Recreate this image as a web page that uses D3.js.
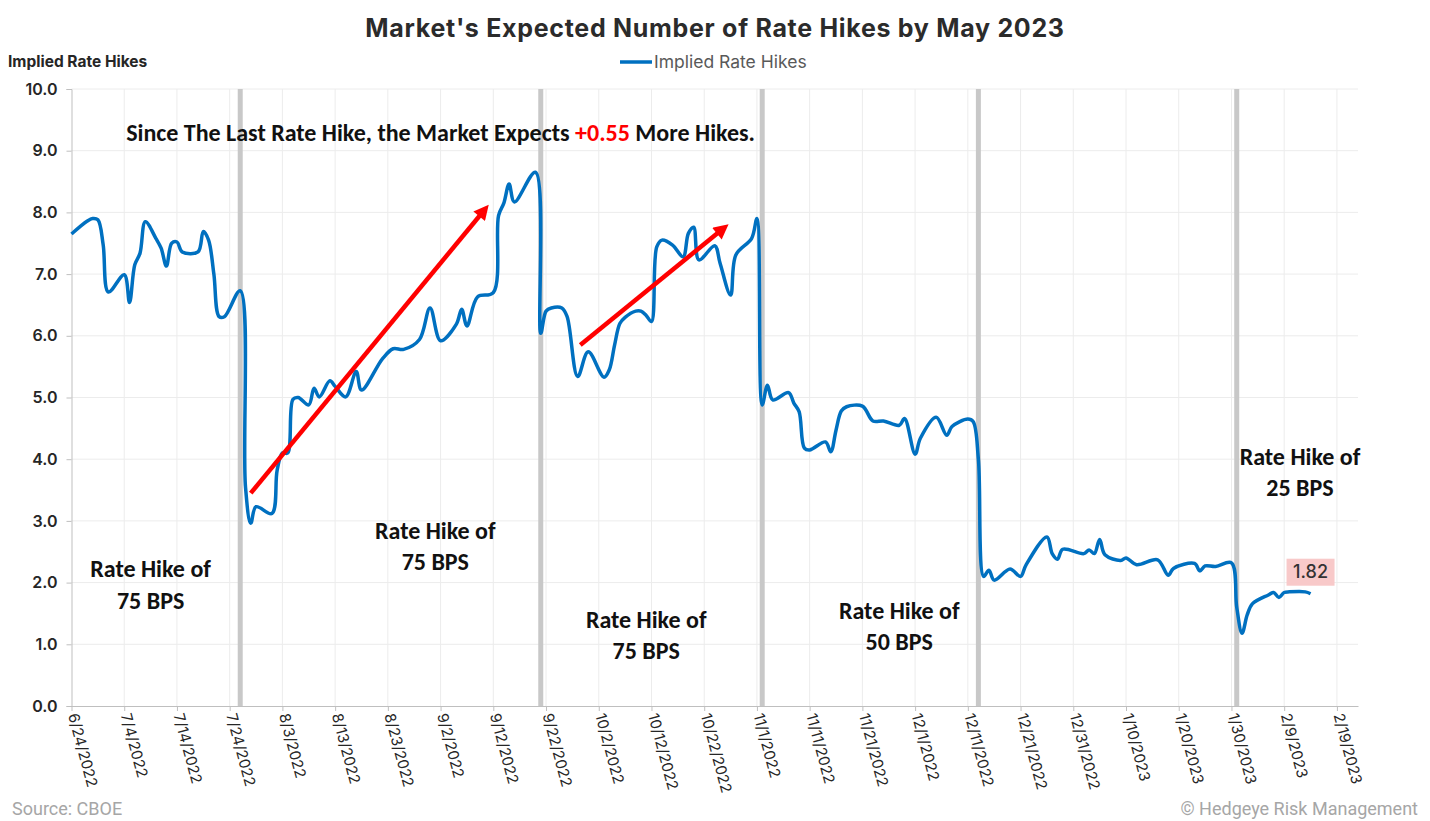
<!DOCTYPE html>
<html lang="en">
<head>
<meta charset="UTF-8">
<title>Market's Expected Number of Rate Hikes by May 2023</title>
<script src="https://d3js.org/d3.v7.min.js"></script>
<style>
  body { margin: 0; background: #fff; }
  svg { display: block; }
</style>
</head>
<body>
<div id="chart"></div>
<script>
// data
const dates = [
  "2022-06-24","2022-06-27","2022-06-28","2022-06-29","2022-06-30","2022-07-01","2022-07-04","2022-07-05",
  "2022-07-06","2022-07-07","2022-07-08","2022-07-10","2022-07-11","2022-07-12","2022-07-13","2022-07-14",
  "2022-07-15","2022-07-18","2022-07-19","2022-07-20","2022-07-21","2022-07-22","2022-07-23","2022-07-26",
  "2022-07-27","2022-07-28","2022-07-29","2022-08-01","2022-08-02","2022-08-03","2022-08-04","2022-08-05",
  "2022-08-06","2022-08-08","2022-08-09","2022-08-10","2022-08-12","2022-08-13","2022-08-15","2022-08-17",
  "2022-08-18","2022-08-22","2022-08-24","2022-08-26","2022-08-29","2022-08-31","2022-09-02","2022-09-05",
  "2022-09-06","2022-09-07","2022-09-09","2022-09-12","2022-09-13","2022-09-14","2022-09-15","2022-09-16",
  "2022-09-20","2022-09-21","2022-09-22","2022-09-23","2022-09-25","2022-09-26","2022-09-28","2022-09-30",
  "2022-10-03","2022-10-04","2022-10-05","2022-10-06","2022-10-07","2022-10-09","2022-10-10","2022-10-11",
  "2022-10-12","2022-10-13","2022-10-14","2022-10-16","2022-10-18","2022-10-19","2022-10-20","2022-10-21",
  "2022-10-24","2022-10-25","2022-10-27","2022-10-28","2022-10-31","2022-11-01","2022-11-02","2022-11-03",
  "2022-11-04","2022-11-07","2022-11-08","2022-11-09","2022-11-10","2022-11-11","2022-11-14","2022-11-15",
  "2022-11-16","2022-11-17","2022-11-18","2022-11-21","2022-11-23","2022-11-25","2022-11-28","2022-11-29",
  "2022-12-01","2022-12-02","2022-12-05","2022-12-07","2022-12-08","2022-12-11","2022-12-12","2022-12-13",
  "2022-12-14","2022-12-15","2022-12-16","2022-12-19","2022-12-21","2022-12-22","2022-12-26","2022-12-27",
  "2022-12-28","2022-12-29","2023-01-02","2023-01-03","2023-01-04","2023-01-05","2023-01-06","2023-01-09",
  "2023-01-10","2023-01-12","2023-01-16","2023-01-18","2023-01-19","2023-01-23","2023-01-24","2023-01-25",
  "2023-01-27","2023-01-30","2023-01-31","2023-02-01","2023-02-02","2023-02-03","2023-02-06","2023-02-07",
  "2023-02-08","2023-02-09","2023-02-10","2023-02-13","2023-02-14"
];
const impliedHikes = [
  7.65,7.86,7.90,7.88,7.48,6.71,6.99,6.54,
  7.15,7.34,7.85,7.58,7.42,7.13,7.50,7.52,
  7.36,7.36,7.69,7.55,7.00,6.31,6.31,6.73,
  3.55,2.96,3.23,3.12,3.82,4.10,4.10,4.97,
  5.00,4.88,5.15,5.01,5.27,5.18,5.01,5.42,
  5.12,5.63,5.79,5.78,5.94,6.45,5.92,6.19,
  6.43,6.16,6.63,6.70,7.95,8.15,8.46,8.17,
  8.65,6.04,6.40,6.45,6.45,6.31,5.34,5.74,
  5.33,5.45,5.85,6.20,6.30,6.40,6.40,6.33,
  6.23,7.44,7.55,7.47,7.28,7.66,7.76,7.23,
  7.46,7.18,6.66,7.31,7.58,7.90,4.88,5.20,
  4.96,5.08,4.91,4.77,4.18,4.15,4.28,4.12,
  4.47,4.78,4.85,4.86,4.62,4.62,4.55,4.66,
  4.08,4.34,4.68,4.39,4.53,4.65,4.61,4.00,
  2.10,2.20,2.04,2.22,2.10,2.28,2.74,2.47,
  2.38,2.54,2.47,2.53,2.47,2.70,2.45,2.36,
  2.40,2.29,2.37,2.12,2.23,2.31,2.19,2.27,
  2.26,2.32,1.60,1.18,1.48,1.66,1.80,1.84,
  1.76,1.84,1.85,1.85,1.82
];
const hikeDates = ["2022-07-26","2022-09-21","2022-11-02","2022-12-13","2023-01-31"];
const xTickLabels = [
  "6/24/2022","7/4/2022","7/14/2022","7/24/2022","8/3/2022","8/13/2022","8/23/2022","9/2/2022",
  "9/12/2022","9/22/2022","10/2/2022","10/12/2022","10/22/2022","11/1/2022","11/11/2022","11/21/2022",
  "12/1/2022","12/11/2022","12/21/2022","12/31/2022","1/10/2023","1/20/2023","1/30/2023","2/9/2023","2/19/2023"
];
const yTicks = [0,1,2,3,4,5,6,7,8,9,10];

// annotations: [date, value, text lines]
const hikeNotes = [
  ["2022-07-09", 2.22, ["Rate Hike of", "75 BPS"]],
  ["2022-09-01", 2.85, ["Rate Hike of", "75 BPS"]],
  ["2022-10-11", 1.40, ["Rate Hike of", "75 BPS"]],
  ["2022-11-28", 1.55, ["Rate Hike of", "50 BPS"]],
  ["2023-02-12", 4.05, ["Rate Hike of", "25 BPS"]]
];
const arrows = [
  ["2022-07-28", 3.45, "2022-09-11T09:00", 8.15],
  ["2022-09-28T12:00", 5.85, "2022-10-26T22:00", 7.83]
];
const headlineAt = ["2022-09-02", 9.29];

const W = 1430, H = 821;
const parse = d3.isoParse;
const parseDay = d3.timeParse("%Y-%m-%d");
const parseTick = d3.timeParse("%m/%d/%Y");
const data = dates.map((d, i) => ({ date: parseDay(d), value: impliedHikes[i] }));

const svg = d3.select("#chart").append("svg")
  .attr("width", W).attr("height", H)
  .style("font-family", "Inter, 'Noto Sans', sans-serif");

const x = d3.scaleTime()
  .domain([new Date(2022, 5, 24), new Date(2023, 1, 23)])
  .range([71.5, 1358]);
const y = d3.scaleLinear().domain([0, 10]).range([706, 89]);
const tickDates = xTickLabels.map(parseTick);

// gridlines
svg.append("g").selectAll("line").data(yTicks.slice(1)).join("line")
  .attr("x1", x.range()[0]).attr("x2", x.range()[1])
  .attr("y1", d => y(d)).attr("y2", d => y(d))
  .attr("stroke", "#ececec").attr("stroke-width", 1);
svg.append("g").selectAll("line").data(tickDates.slice(1)).join("line")
  .attr("x1", d => x(d)).attr("x2", d => x(d))
  .attr("y1", y(0)).attr("y2", y(10))
  .attr("stroke", "#ececec").attr("stroke-width", 1);

// rate hike markers
svg.append("g").selectAll("rect").data(hikeDates).join("rect")
  .attr("x", d => x(parseDay(d)) - 2.5)
  .attr("y", y(10)).attr("width", 5).attr("height", y(0) - y(10))
  .attr("fill", "#c8c8c8");

// axes
const yAxis = svg.append("g").attr("transform", `translate(${x.range()[0]},0)`)
  .call(d3.axisLeft(y).tickValues(yTicks).tickFormat(d3.format(".1f")).tickSize(5).tickPadding(9));
yAxis.select(".domain").attr("stroke", "#bfbfbf");
yAxis.selectAll(".tick line").attr("stroke", "#bfbfbf");
yAxis.selectAll("text").attr("font-size", 16).attr("font-weight", 600).attr("fill", "#262626")
  .style("font-family", "Inter, sans-serif");

const xAxis = svg.append("g").attr("transform", `translate(0,${y(0)})`)
  .call(d3.axisBottom(x).tickValues(tickDates).tickFormat((d, i) => xTickLabels[i]).tickSize(5).tickSizeOuter(0));
xAxis.select(".domain").attr("stroke", "#bfbfbf");
xAxis.selectAll(".tick line").attr("stroke", "#bfbfbf");
xAxis.selectAll("text")
  .attr("font-size", 15).attr("fill", "#262626")
  .attr("text-anchor", "start").attr("dy", null).attr("y", 0)
  .attr("transform", "translate(-4,9) rotate(75)")
  .style("font-family", "Inter, sans-serif");

// arrows
const defs = svg.append("defs");
defs.append("marker").attr("id", "head")
  .attr("viewBox", "0 0 10 10").attr("refX", 2).attr("refY", 5)
  .attr("markerUnits", "userSpaceOnUse").attr("markerWidth", 17).attr("markerHeight", 15)
  .attr("orient", "auto")
  .append("path").attr("d", "M0,0 L10,5 L0,10 Z").attr("fill", "#ff0000");

// series line
const line = d3.line()
  .x(d => x(d.date)).y(d => y(d.value))
  .curve(d3.curveCatmullRom.alpha(0.5));
svg.append("path").datum(data)
  .attr("d", line).attr("fill", "none")
  .attr("stroke", "#0070c0").attr("stroke-width", 3.5)
  .attr("stroke-linejoin", "round");

const shaft = (d, k) => {
  const x1 = x(parse(d[0])), y1 = y(d[1]), x2 = x(parse(d[2])), y2 = y(d[3]);
  const len = Math.hypot(x2 - x1, y2 - y1);
  return k === "x" ? x2 - (x2 - x1) / len * 14 : y2 - (y2 - y1) / len * 14;
};
svg.append("g").selectAll("line").data(arrows).join("line")
  .attr("x1", d => x(parse(d[0]))).attr("y1", d => y(d[1]))
  .attr("x2", d => shaft(d, "x")).attr("y2", d => shaft(d, "y"))
  .attr("stroke", "#ff0000").attr("stroke-width", 4.5)
  .attr("marker-end", "url(#head)");

// last value label
const last = data[data.length - 1];
const lbl = svg.append("g").attr("transform", `translate(${x(last.date)},${y(last.value) - 22})`);
lbl.append("rect").attr("x", -24).attr("y", -13).attr("width", 48).attr("height", 27)
  .attr("fill", "#f8c9c9");
lbl.append("text").attr("text-anchor", "middle").attr("dy", "0.36em")
  .attr("font-size", 18).attr("font-weight", 500).attr("fill", "#333")
  .text(d3.format(".2f")(last.value));

// annotations
const noteFont = "Carlito, Lato, 'Open Sans', sans-serif";
hikeNotes.forEach(n => {
  const t = svg.append("text")
    .attr("x", x(parse(n[0]))).attr("y", y(n[1]))
    .attr("text-anchor", "middle").attr("font-size", 24).attr("font-weight", 700)
    .attr("fill", "#111").style("font-family", noteFont);
  n[2].forEach((s, i) => t.append("tspan").attr("x", x(parse(n[0])))
    .attr("dy", i === 0 ? "0.35em" : "1.3em").text(s));
});

const headline = svg.append("text")
  .attr("x", x(parse(headlineAt[0]))).attr("y", y(headlineAt[1])).attr("dy", "0.35em")
  .attr("text-anchor", "middle").attr("font-size", 24).attr("font-weight", 700)
  .attr("fill", "#111").style("font-family", noteFont);
headline.append("tspan").text("Since The Last Rate Hike, the Market Expects ");
headline.append("tspan").attr("fill", "#ff0000").text("+0.55");
headline.append("tspan").text(" More Hikes.");

// titles and legend
svg.append("text").attr("x", W / 2).attr("y", 37).attr("text-anchor", "middle")
  .attr("font-size", 25).attr("font-weight", 700).attr("fill", "#2b2b2b")
  .attr("letter-spacing", 0.7)
  .text("Market's Expected Number of Rate Hikes by May 2023");

svg.append("text").attr("x", 8).attr("y", 67)
  .attr("font-size", 15.5).attr("font-weight", 700).attr("fill", "#262626")
  .text("Implied Rate Hikes");

const legend = svg.append("g").attr("transform", "translate(620,62)");
legend.append("line").attr("x1", 0).attr("x2", 32).attr("stroke", "#0070c0").attr("stroke-width", 3.5);
legend.append("text").attr("x", 34).attr("dy", "0.35em")
  .attr("font-size", 17.5).attr("fill", "#595959").text("Implied Rate Hikes");

// footer
const footFont = "'Liberation Sans Narrow', Roboto, sans-serif";
svg.append("text").attr("x", 12).attr("y", 815)
  .attr("font-size", 18).attr("fill", "#a6a6a6").style("font-family", footFont)
  .text("Source: CBOE");
svg.append("text").attr("x", 1418).attr("y", 815).attr("text-anchor", "end")
  .attr("font-size", 18).attr("fill", "#a6a6a6").style("font-family", footFont)
  .text("© Hedgeye Risk Management");
</script>
</body>
</html>
